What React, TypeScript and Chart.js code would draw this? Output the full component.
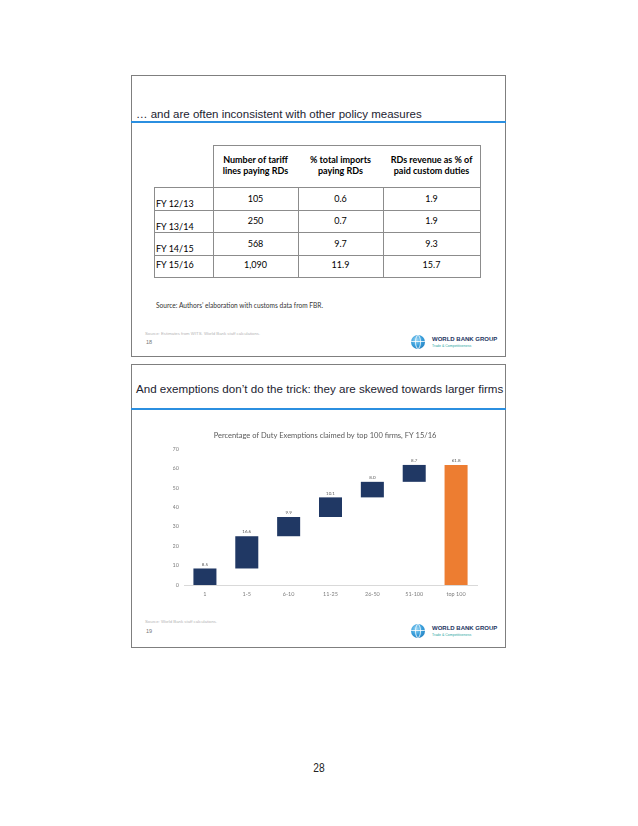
import React, { useEffect, useRef } from "react";
import { Chart, registerables } from "chart.js";

Chart.register(...registerables);

// ---------- data ----------
const categories = ["1", "1-5", "6-10", "11-25", "26-50", "51-100", "top 100"];
const increments = [8.5, 16.6, 9.9, 10.1, 8.0, 8.7];
const totalValue = 61.8;
const yMax = 70;
const yStep = 10;

const tableHeaders = [
  ["Number of tariff", "lines paying RDs"],
  ["% total imports", "paying RDs"],
  ["RDs revenue as % of", "paid custom duties"],
];
const fiscalYears = ["FY 12/13", "FY 13/14", "FY 14/15", "FY 15/16"];
const tariffLines = ["105", "250", "568", "1,090"];
const importsShare = ["0.6", "0.7", "9.7", "11.9"];
const revenueShare = ["1.9", "1.9", "9.3", "15.7"];

const NAVY = "#203864";
const ORANGE = "#ED7D31";
const CAL = "Lato, 'Open Sans', sans-serif";
const ARIAL = "'Liberation Sans', Arial, sans-serif";

function WaterfallChart() {
  const ref = useRef<HTMLCanvasElement | null>(null);
  useEffect(() => {
    if (!ref.current) return;
    const floating: [number, number][] = [];
    let acc = 0;
    increments.forEach((v) => {
      floating.push([acc, +(acc + v).toFixed(1)]);
      acc += v;
    });
    floating.push([0, totalValue]);
    const labels = [...increments, totalValue].map((v) => v.toFixed(1));
    const colors = [...increments.map(() => NAVY), ORANGE];

    const valueLabels = {
      id: "valueLabels",
      afterDatasetsDraw(chart: any) {
        const ctx = chart.ctx;
        const meta = chart.getDatasetMeta(0);
        ctx.save();
        ctx.font = `4.5px ${CAL}`;
        ctx.fillStyle = "#595959";
        ctx.textAlign = "center";
        ctx.textBaseline = "bottom";
        meta.data.forEach((bar: any, i: number) => {
          ctx.fillText(labels[i], bar.x, Math.min(bar.y, bar.base) - 2);
        });
        ctx.restore();
      },
    };

    const chart = new Chart(ref.current, {
      type: "bar",
      data: {
        labels: categories,
        datasets: [
          {
            data: floating as any,
            backgroundColor: colors,
            borderWidth: 0,
            barPercentage: 0.55,
            categoryPercentage: 1,
          },
        ],
      },
      options: {
        responsive: true,
        maintainAspectRatio: false,
        animation: false,
        layout: { padding: { left: 23, right: 13, top: 0, bottom: 0 } },
        plugins: {
          legend: { display: false },
          tooltip: { enabled: false },
          title: {
            display: true,
            text: "Percentage of Duty Exemptions claimed by top 100 firms, FY 15/16",
            color: "#595959",
            font: { family: CAL, size: 7.5, weight: "normal" as any },
            padding: { top: 5, bottom: 9 },
          },
        },
        scales: {
          x: {
            grid: { display: false, drawTicks: false },
            border: { display: true, color: "#d9d9d9", width: 1 },
            ticks: {
              color: "#7f7f7f",
              font: { family: CAL, size: 5.5 },
              padding: 6,
              maxRotation: 0,
            },
            afterFit: (s: any) => {
              s.height = 19;
            },
          },
          y: {
            min: 0,
            max: yMax,
            grid: { display: false, drawTicks: false },
            border: { display: false },
            ticks: {
              stepSize: yStep,
              color: "#7f7f7f",
              font: { family: CAL, size: 5.5 },
              padding: 5,
            },
            afterFit: (s: any) => {
              s.width = 11;
            },
          },
        },
      },
      plugins: [valueLabels],
    });
    return () => chart.destroy();
  }, []);
  return (
    <div style={{ position: "absolute", left: 150, top: 426, width: 340, height: 178 }}>
      <canvas ref={ref} />
    </div>
  );
}

function Logo({ cy }: { cy: number }) {
  return (
    <>
      <div
        style={{
          position: "absolute",
          left: 411,
          top: cy - 7,
          width: 14,
          height: 14,
          borderRadius: "50%",
          background: "radial-gradient(circle at 40% 35%, #9fd8f5 0%, #3aa0dc 45%, #1a6fb0 100%)",
          overflow: "hidden",
        }}
      >
        <div style={{ position: "absolute", left: 4, top: 0, width: 6, height: 14, border: "1px solid rgba(255,255,255,0.8)", borderRadius: "50%", boxSizing: "border-box" }} />
        <div style={{ position: "absolute", left: 0, top: 6, width: 14, height: 1, background: "rgba(255,255,255,0.8)" }} />
      </div>
      <div
        style={{
          position: "absolute",
          left: 432,
          top: cy - 6.5,
          fontFamily: ARIAL,
          fontWeight: "bold",
          fontSize: 6,
          lineHeight: "7px",
          color: "#1d3461",
          whiteSpace: "nowrap",
        }}
      >
        WORLD BANK GROUP
      </div>
      <div
        style={{
          position: "absolute",
          left: 432,
          top: cy + 1.5,
          fontFamily: ARIAL,
          fontSize: 3.5,
          lineHeight: "4px",
          color: "#2aa6a0",
          whiteSpace: "nowrap",
        }}
      >
        Trade &amp; Competitiveness
      </div>
    </>
  );
}

function abs(left: number, top: number, extra: React.CSSProperties = {}): React.CSSProperties {
  return { position: "absolute", left, top, ...extra };
}

export default function App() {
  const colLines = [154, 213, 298, 383, 480];
  const rowTop = 187;
  const rowH = 22.5;
  const valueCols = [tariffLines, importsShare, revenueShare];

  return (
    <div style={{ position: "absolute", left: 0, top: 0, width: 638, height: 826, background: "#fff", overflow: "hidden" }}>
      {/* ---------- Slide 18 ---------- */}
      <div style={abs(131, 75, { width: 375, height: 282, border: "1px solid #7f7f7f", boxSizing: "border-box" })} />
      <div style={abs(136, 106.5, { fontFamily: ARIAL, fontSize: 11.5, lineHeight: "14px", color: "#1c2331", whiteSpace: "nowrap" })}>
        … and are often inconsistent with other policy measures
      </div>
      <div style={abs(131, 121, { width: 375, height: 2, background: "#2b8fe0" })} />

      {/* table header box */}
      <div style={abs(213, 145, { width: 268, height: 43, border: "1px solid #8c8c8c", boxSizing: "border-box" })} />
      {tableHeaders.map((h, i) => (
        <div
          key={i}
          style={abs(colLines[i + 1], 154, {
            width: colLines[i + 2] - colLines[i + 1],
            textAlign: "center",
            fontFamily: CAL,
            fontWeight: "bold",
            fontSize: 9,
            lineHeight: "11px",
            color: "#000",
          })}
        >
          {h[0]}
          <br />
          {h[1]}
        </div>
      ))}
      {/* table body */}
      <div style={abs(154, rowTop, { width: 327, height: rowH * 4 + 1, border: "1px solid #8c8c8c", boxSizing: "border-box" })} />
      {[1, 2, 3].map((r) => (
        <div key={"r" + r} style={abs(154, rowTop + rowH * r, { width: 327, height: 1, background: "#8c8c8c" })} />
      ))}
      {[213, 298, 383].map((x) => (
        <div key={"c" + x} style={abs(x, rowTop, { width: 1, height: rowH * 4, background: "#8c8c8c" })} />
      ))}
      {fiscalYears.map((fy, r) => {
        const last = r === fiscalYears.length - 1;
        const labelCy = rowTop + rowH * r + (last ? 10.5 : 17);
        const valCy = rowTop + rowH * r + (last ? 10.5 : 11.5);
        return (
          <React.Fragment key={fy}>
            <div style={abs(156, labelCy - 6, { fontFamily: CAL, fontSize: 9, lineHeight: "12px", color: "#000", whiteSpace: "nowrap" })}>{fy}</div>
            {valueCols.map((col, c) => (
              <div
                key={c}
                style={abs(colLines[c + 1], valCy - 6, {
                  width: colLines[c + 2] - colLines[c + 1],
                  textAlign: "center",
                  fontFamily: CAL,
                  fontSize: 9,
                  lineHeight: "12px",
                  color: "#000",
                })}
              >
                {col[r]}
              </div>
            ))}
          </React.Fragment>
        );
      })}

      <div style={abs(156, 301, { fontFamily: CAL, fontSize: 6.6, lineHeight: "8px", color: "#333", whiteSpace: "nowrap" })}>
        Source: Authors’ elaboration with customs data from FBR.
      </div>
      <div style={abs(145, 330.5, { fontFamily: ARIAL, fontSize: 4.3, lineHeight: "5px", color: "#b5b5b5", whiteSpace: "nowrap" })}>
        Source: Estimates from WITS. World Bank staff calculations.
      </div>
      <div style={abs(146, 339, { fontFamily: ARIAL, fontSize: 5.5, lineHeight: "6px", color: "#777", whiteSpace: "nowrap" })}>18</div>
      <Logo cy={342} />

      {/* ---------- Slide 19 ---------- */}
      <div style={abs(131, 364, { width: 375, height: 284, border: "1px solid #7f7f7f", boxSizing: "border-box" })} />
      <div style={abs(136, 382, { fontFamily: ARIAL, fontSize: 11.6, lineHeight: "14px", color: "#1c2331", whiteSpace: "nowrap" })}>
        And exemptions don’t do the trick: they are skewed towards larger firms
      </div>
      <div style={abs(131, 408, { width: 375, height: 2, background: "#2b8fe0" })} />

      <WaterfallChart />

      <div style={abs(145, 618.5, { fontFamily: ARIAL, fontSize: 4.3, lineHeight: "5px", color: "#b5b5b5", whiteSpace: "nowrap" })}>
        Source: World Bank staff calculations.
      </div>
      <div style={abs(146, 628, { fontFamily: ARIAL, fontSize: 5.5, lineHeight: "6px", color: "#777", whiteSpace: "nowrap" })}>19</div>
      <Logo cy={631} />

      {/* page number */}
      <div style={abs(300, 760, { width: 38, textAlign: "center", fontFamily: ARIAL, fontSize: 12, lineHeight: "16px", color: "#222", transform: "scaleX(0.85)" })}>
        28
      </div>
    </div>
  );
}
